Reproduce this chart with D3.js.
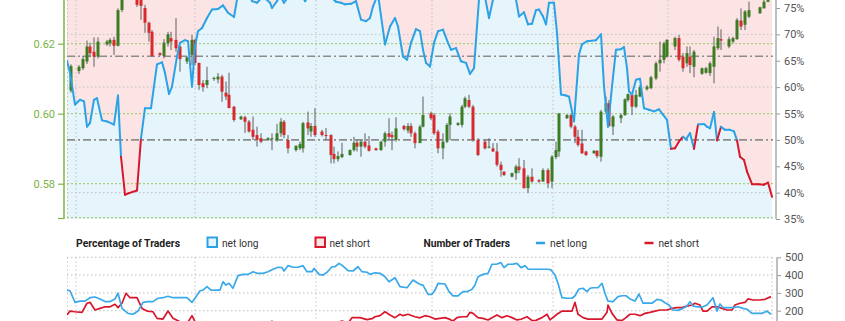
<!DOCTYPE html>
<html>
<head>
<meta charset="utf-8">
<script src="https://cdn.jsdelivr.net/npm/d3@7"></script>
<style>
  body { margin: 0; background: #fff; }
  svg text { font-family: Roboto, "Liberation Sans", sans-serif; }
</style>
</head>
<body>
<svg id="chart" width="845" height="321"></svg>
<script>
// ---- data (time in hours from start of window) ----
// candles: [time, open, high, low, close]
const candles = [
  [4, .6066, .6141, .6060, .6136], [12, .6122, .6139, .6114, .6134], [16, .6130, .6165, .6125, .6156],
  [20, .6149, .6209, .6142, .6192], [23, .6192, .6203, .6163, .6173], [27, .6177, .6218, .6134, .6163],
  [31, .6163, .6218, .6158, .6206], [40, .6198, .6211, .6194, .6206], [43, .6201, .6216, .6192, .6211],
  [47, .6211, .6220, .6168, .6194], [51, .6194, .6301, .6192, .6296], [55, .6296, .6345, .6290, .6335],
  [59, .6335, .6372, .6328, .6360], [63, .6360, .6395, .6352, .6385], [66, .6385, .6392, .6340, .6345],
  [70, .6331, .6335, .6305, .6311], [74, .6328, .6335, .6268, .6308], [78, .6302, .6311, .6231, .6260],
  [82, .6260, .6263, .6206, .6231], [85, .6234, .6239, .6163, .6165], [93, .6173, .6175, .6165, .6168],
  [97, .6165, .6213, .6158, .6203], [101, .6201, .6234, .6192, .6227], [104, .6216, .6234, .6182, .6206],
  [109, .6211, .6273, .6177, .6187], [113, .6192, .6194, .6120, .6156], [120, .6149, .6164, .6142, .6161],
  [125, .6168, .6225, .6139, .6211], [128, .6211, .6214, .6139, .6145], [132, .6145, .6146, .6068, .6082],
  [136, .6087, .6096, .6063, .6076], [140, .6082, .6134, .6073, .6096], [147, .6099, .6106, .6094, .6102],
  [151, .6098, .6116, .6087, .6106], [155, .6106, .6111, .6034, .6063], [159, .6060, .6092, .6039, .6049],
  [162, .6054, .6117, .6016, .6016], [167, .6020, .6022, .5977, .5982], [174, .5984, .5994, .5982, .5992],
  [178, .5990, .5994, .5945, .5977], [182, .5977, .5982, .5946, .5949], [186, .5954, .5992, .5925, .5934],
  [190, .5939, .5963, .5906, .5925], [194, .5930, .5944, .5916, .5920], [201, .5925, .5933, .5922, .5930],
  [205, .5928, .5944, .5896, .5930], [210, .5925, .5971, .5920, .5944], [214, .5944, .5987, .5934, .5977],
  [217, .5977, .5982, .5930, .5939], [221, .5925, .5939, .5887, .5901], [229, .5896, .5910, .5892, .5908],
  [233, .5901, .5920, .5896, .5913], [236, .5901, .5977, .5889, .5973], [241, .5975, .6006, .5939, .5958],
  [244, .5949, .5973, .5934, .5965], [248, .5965, .6016, .5934, .5939], [255, .5949, .5954, .5935, .5939],
  [259, .5939, .5959, .5925, .5936], [264, .5939, .5941, .5858, .5882], [267, .5885, .5906, .5858, .5870],
  [271, .5870, .5892, .5863, .5879], [275, .5876, .5917, .5873, .5885], [283, .5882, .5898, .5880, .5896],
  [287, .5896, .5934, .5892, .5917], [290, .5917, .5925, .5892, .5906], [294, .5906, .5925, .5877, .5920],
  [298, .5920, .5944, .5901, .5906], [302, .5909, .5936, .5892, .5894], [309, .5901, .5903, .5894, .5896],
  [314, .5896, .5923, .5894, .5920], [318, .5920, .5949, .5906, .5944], [322, .5944, .5987, .5925, .5934],
  [325, .5939, .5949, .5896, .5933], [329, .5925, .5990, .5920, .5958], [337, .5965, .5968, .5952, .5956],
  [341, .5952, .5973, .5944, .5965], [344, .5965, .5973, .5934, .5944], [348, .5944, .5949, .5901, .5916],
  [353, .5916, .5968, .5916, .5963], [356, .5963, .6049, .5961, .5996], [364, .6001, .6006, .5982, .5987],
  [367, .5996, .6002, .5939, .5944], [371, .5949, .5954, .5887, .5901], [376, .5901, .5944, .5870, .5920],
  [380, .5920, .5973, .5916, .5968], [383, .5968, .6001, .5925, .5992], [391, .5968, .5976, .5965, .5973],
  [395, .5968, .6025, .5961, .6020], [398, .6020, .6049, .6016, .6044], [402, .6039, .6054, .6016, .6020],
  [406, .6020, .6025, .5920, .5925], [411, .5925, .5930, .5879, .5882], [418, .5920, .5925, .5898, .5901],
  [422, .5903, .5930, .5901, .5906], [426, .5901, .5916, .5891, .5892], [430, .5892, .5916, .5849, .5854],
  [434, .5854, .5863, .5820, .5839], [437, .5834, .5836, .5822, .5825], [445, .5820, .5832, .5818, .5830],
  [449, .5830, .5854, .5811, .5849], [452, .5849, .5873, .5830, .5839], [457, .5844, .5868, .5787, .5787],
  [461, .5787, .5825, .5773, .5820], [465, .5820, .5844, .5803, .5806], [472, .5810, .5813, .5803, .5806],
  [476, .5806, .5844, .5806, .5839], [481, .5839, .5844, .5787, .5801], [485, .5806, .5882, .5787, .5877],
  [489, .5876, .5920, .5870, .5896], [492, .5892, .6001, .5877, .6001], [500, .5987, .5999, .5985, .5996],
  [504, .5996, .6001, .5958, .5963], [508, .5963, .5968, .5916, .5934], [511, .5934, .5954, .5906, .5911],
  [515, .5915, .5954, .5885, .5887], [519, .5892, .5894, .5879, .5882], [527, .5887, .5896, .5885, .5894],
  [530, .5894, .5896, .5873, .5879], [534, .5877, .6011, .5863, .6006], [539, .6006, .6049, .6001, .6030],
  [542, .6030, .6039, .5963, .5965], [546, .5963, .5996, .5939, .5992], [554, .5987, .6001, .5973, .5996],
  [558, .5996, .6044, .5994, .6041], [561, .6039, .6058, .6034, .6056], [565, .6054, .6058, .5996, .6020],
  [569, .6020, .6068, .6016, .6054], [573, .6049, .6082, .6047, .6076], [580, .6070, .6082, .6066, .6077],
  [584, .6073, .6108, .6070, .6104], [589, .6101, .6149, .6096, .6144], [593, .6144, .6206, .6120, .6154],
  [597, .6154, .6206, .6144, .6201], [600, .6163, .6213, .6160, .6211], [608, .6192, .6220, .6182, .6216],
  [612, .6216, .6225, .6149, .6154], [616, .6163, .6173, .6120, .6130], [620, .6144, .6192, .6134, .6173],
  [623, .6163, .6192, .6116, .6139], [627, .6134, .6182, .6104, .6177], [635, .6114, .6132, .6111, .6130],
  [639, .6117, .6134, .6114, .6130], [643, .6116, .6149, .6108, .6144], [647, .6134, .6220, .6087, .6192],
  [651, .6187, .6249, .6182, .6216], [654, .6213, .6241, .6182, .6209], [662, .6192, .6220, .6187, .6213],
  [666, .6206, .6220, .6201, .6216], [670, .6213, .6273, .6211, .6268], [674, .6266, .6301, .6239, .6249],
  [678, .6254, .6296, .6239, .6292], [682, .6277, .6320, .6273, .6296], [693, .6287, .6306, .6285, .6304],
  [697, .6301, .6325, .6301, .6320], [701, .6320, .6338, .6318, .6331]
];

// % of traders net long: [time, percent]
const netLongPct = [
  [0,65.0],[3,62.7],[8,56.7],[13,57.6],[17,57.3],[20,52.5],[23,53.2],[27,57.6],[30,57.9],[35,53.7],
  [40,53.5],[47,52.9],[51,58.4],[54,46.8],[58,39.6],[62,39.9],[70,40.4],[74,50.3],[78,56.0],[84,56.0],
  [90,64.3],[95,64.7],[98,62.7],[102,58.7],[105,60.1],[110,65.8],[113,68.4],[118,68.9],[121,68.7],[125,60.1],
  [128,67.7],[131,70.6],[135,71.2],[140,73.1],[145,74.7],[151,74.8],[156,75.5],[161,74.1],[167,73.3],[170,76.6],
  [175,78.5],[180,79.5],[185,76.3],[190,76.0],[196,77.2],[203,76.0],[205,75.0],[210,76.3],[213,77.4],[217,76.0],
  [223,77.6],[233,78.1],[238,76.3],[243,77.6],[253,77.6],[263,77.2],[269,76.2],[274,76.0],[278,75.7],[284,75.8],
  [289,76.3],[294,72.8],[299,72.5],[303,73.1],[306,75.3],[311,77.6],[318,68.1],[323,71.5],[328,73.1],[331,71.5],
  [336,65.8],[340,65.2],[344,68.4],[349,71.0],[353,70.6],[356,67.1],[359,64.6],[363,63.9],[367,68.4],[371,70.6],
  [376,70.9],[381,68.4],[384,67.1],[389,67.4],[394,64.9],[399,64.6],[403,62.5],[407,63.6],[410,71.5],[412,76.6],
  [417,78.1],[422,73.1],[426,76.6],[433,78.5],[441,77.7],[449,76.6],[452,73.4],[457,74.2],[461,71.9],[465,72.0],
  [469,74.6],[472,74.7],[476,73.4],[479,71.9],[482,76.0],[487,76.0],[490,70.3],[494,58.6],[499,58.4],[502,58.2],
  [507,53.5],[512,66.2],[515,68.1],[520,68.7],[529,68.9],[534,70.0],[537,60.1],[541,52.5],[545,60.1],[549,67.1],
  [554,67.2],[557,67.6],[560,63.6],[562,59.2],[565,58.6],[569,61.4],[573,61.6],[577,56.0],[582,55.7],[587,55.4],
  [592,55.8],[596,54.8],[600,53.8],[604,48.3],[608,48.4],[612,49.7],[616,50.6],[619,50.1],[623,51.3],[627,48.3],
  [631,52.9],[637,53.0],[640,52.5],[643,52.2],[647,55.3],[650,49.9],[654,52.5],[658,51.9],[663,51.9],[667,51.6],
  [670,49.9],[673,46.8],[677,46.2],[680,44.0],[685,41.6],[691,41.6],[697,41.5],[701,41.9],[705,39.2]
];

// number of traders: [time, count]
const netLongCount = [
  [0,316],[3,312],[8,247],[13,254],[18,254],[23,273],[28,277],[33,266],[38,251],[43,251],[48,266],[51,298],
  [55,213],[61,185],[66,180],[71,198],[76,247],[81,251],[86,251],[91,270],[96,273],[101,281],[106,273],[113,273],
  [120,273],[125,247],[128,270],[133,312],[136,316],[140,335],[144,315],[149,316],[153,316],[156,363],[159,344],
  [162,354],[166,326],[171,397],[176,404],[181,404],[186,419],[190,410],[196,410],[201,419],[206,433],[211,444],
  [215,442],[217,423],[221,453],[226,444],[231,444],[236,453],[240,419],[245,419],[247,438],[252,404],[256,400],
  [260,416],[265,447],[268,447],[272,466],[276,451],[281,425],[286,423],[291,447],[295,419],[300,416],[303,404],
  [308,413],[313,410],[318,391],[322,363],[328,385],[333,335],[340,329],[346,372],[351,354],[353,348],[356,344],
  [361,292],[365,292],[368,316],[371,354],[378,350],[382,307],[386,283],[391,283],[396,307],[400,307],[405,320],
  [408,344],[411,391],[416,404],[421,410],[425,461],[430,462],[434,470],[437,442],[441,461],[446,462],[450,466],
  [454,442],[458,453],[461,434],[468,433],[475,433],[481,433],[484,429],[488,400],[491,354],[495,273],[500,270],
  [505,270],[508,284],[512,322],[516,326],[520,307],[523,326],[526,329],[531,329],[535,354],[538,298],[541,254],
  [546,251],[551,279],[555,284],[559,284],[563,266],[568,254],[572,294],[576,242],[581,242],[585,242],[590,264],
  [594,260],[598,245],[602,232],[606,204],[611,202],[616,213],[620,226],[623,251],[626,226],[631,222],[636,222],
  [640,232],[646,273],[650,198],[653,238],[656,217],[661,217],[666,217],[671,222],[676,213],[680,208],[685,185],
  [690,185],[695,185],[700,198],[704,180]
];
const netShortCount = [
  [0,176],[3,198],[8,194],[15,191],[20,242],[23,247],[28,204],[33,213],[38,222],[43,222],[48,236],[51,217],
  [55,242],[59,298],[63,273],[70,273],[75,213],[80,198],[86,194],[90,157],[96,153],[101,198],[106,157],[113,138],
  [121,136],[125,172],[128,138],[135,125],[145,118],[155,122],[165,115],[175,118],[185,112],[195,120],[205,140],
  [213,122],[225,116],[235,120],[245,113],[255,118],[265,124],[275,142],[281,130],[285,161],[293,161],[300,150],
  [305,155],[308,166],[313,172],[318,194],[323,176],[328,161],[333,180],[336,172],[341,180],[348,166],[353,160],
  [358,172],[363,166],[368,153],[373,157],[378,161],[383,151],[386,142],[390,161],[395,166],[400,166],[403,191],
  [406,185],[411,161],[416,157],[421,148],[425,161],[430,176],[435,161],[440,172],[445,161],[450,148],[454,152],
  [460,166],[465,145],[469,146],[475,161],[480,180],[483,148],[490,180],[495,198],[500,198],[505,198],[508,247],
  [511,180],[516,161],[521,153],[526,153],[535,153],[540,191],[541,232],[545,185],[550,148],[555,145],[558,157],
  [563,180],[568,180],[573,172],[578,185],[583,191],[588,198],[593,204],[600,204],[605,213],[610,217],[615,217],
  [620,226],[625,232],[628,242],[633,232],[636,198],[640,198],[645,222],[650,222],[655,213],[660,204],[665,204],
  [668,232],[673,242],[678,247],[681,266],[686,260],[693,260],[698,264],[704,279]
];

const dateTicks = [9, 128, 249, 365, 486, 601];
const priceTicks = [0.58, 0.60, 0.62];
const pctTicks = [35, 40, 45, 50, 55, 60, 65, 70, 75];
const pctGrid = [40, 60, 70];
const refPct = [50, 65.85];
const countTicks = [200, 300, 400, 500];

// ---- layout ----
const svg = d3.select('#chart');
const L = 67, R = 773;
const topBottom = 219;
const lowTop = 257.3;

const x = d3.scaleLinear().domain([0, 706]).range([L, R]);
const yPrice = d3.scaleLinear().domain([0.57, 0.63]).range([218.7, 8.7]);
const yPct = d3.scaleLinear().domain([35, 75]).range([219, 8]);
const yNum = d3.scaleLinear().domain([200, 500]).range([310.7, lowTop]);

const BLUE = '#2aa3e6', RED = '#d8172c';
const BLUE_FILL = '#e6f4fc', RED_FILL = '#fce4e5';

const defs = svg.append('defs');
defs.append('clipPath').attr('id', 'clipTop')
  .append('rect').attr('x', L).attr('y', 0).attr('width', R - L).attr('height', topBottom);
defs.append('clipPath').attr('id', 'clipLow')
  .append('rect').attr('x', L).attr('y', lowTop - 2).attr('width', R - L).attr('height', 321 - lowTop + 2);

// ---- top panel ----
const topPanel = svg.append('g').attr('clip-path', 'url(#clipTop)');
const lastT = netLongPct[netLongPct.length - 1][0];

topPanel.append('rect')
  .attr('x', x(0)).attr('y', 0)
  .attr('width', x(lastT) - x(0)).attr('height', topBottom)
  .attr('fill', RED_FILL);

topPanel.append('path')
  .datum(netLongPct)
  .attr('fill', BLUE_FILL)
  .attr('d', d3.area().x(d => x(d[0])).y0(topBottom).y1(d => yPct(d[1])));

// gridlines
topPanel.selectAll('.pctGrid').data(pctGrid).enter().append('line')
  .attr('x1', L).attr('x2', R)
  .attr('y1', d => yPct(d)).attr('y2', d => yPct(d))
  .attr('stroke', '#c2c2c2').attr('stroke-dasharray', '1.5,2.5');

topPanel.selectAll('.priceGrid').data(priceTicks.concat([0.57])).enter().append('line')
  .attr('x1', L).attr('x2', R)
  .attr('y1', d => yPrice(d) - (d === 0.57 ? 1 : 0)).attr('y2', d => yPrice(d) - (d === 0.57 ? 1 : 0))
  .attr('stroke', '#a7d07c').attr('stroke-width', 1.2).attr('stroke-dasharray', '2,2');

topPanel.selectAll('.vGrid').data(dateTicks).enter().append('line')
  .attr('x1', d => x(d)).attr('x2', d => x(d))
  .attr('y1', 0).attr('y2', topBottom)
  .attr('stroke', '#c2c2c2').attr('stroke-dasharray', '1.5,2.5');

topPanel.append('line')
  .attr('x1', L + 0.5).attr('x2', L + 0.5).attr('y1', 0).attr('y2', topBottom)
  .attr('stroke', '#b8c8a8').attr('stroke-dasharray', '1.5,2.5');

topPanel.selectAll('.ref').data(refPct).enter().append('line')
  .attr('x1', L).attr('x2', R)
  .attr('y1', d => yPct(d)).attr('y2', d => yPct(d))
  .attr('stroke', '#8d8d8d').attr('stroke-width', 1.6).attr('stroke-dasharray', '8,3,2,3');

// candles
const candle = topPanel.selectAll('.candle').data(candles).enter().append('g');
candle.append('line')
  .attr('x1', d => x(d[0])).attr('x2', d => x(d[0]))
  .attr('y1', d => yPrice(d[2])).attr('y2', d => yPrice(d[3]))
  .attr('stroke', '#5e5e5e').attr('stroke-width', 1);
candle.append('rect')
  .attr('x', d => x(d[0]) - 1.5)
  .attr('width', 3)
  .attr('y', d => yPrice(Math.max(d[1], d[4])))
  .attr('height', d => Math.max(1, Math.abs(yPrice(d[1]) - yPrice(d[4]))))
  .attr('fill', d => d[4] >= d[1] ? '#3c7d24' : '#d62a2c');

// sentiment line, each segment coloured by its starting value
const seg = d3.line().x(d => x(d[0])).y(d => yPct(d[1]));
const pairs = d3.pairs(netLongPct);
topPanel.selectAll('.seg').data(pairs).enter().append('path')
  .attr('d', d => seg(d))
  .attr('fill', 'none')
  .attr('stroke', d => d[0][1] >= 50 ? BLUE : RED)
  .attr('stroke-width', 2)
  .attr('stroke-linecap', 'round')
  .attr('stroke-linejoin', 'round');

// left axis (price)
const leftAxis = svg.append('g')
  .attr('transform', 'translate(64,0)')
  .call(d3.axisLeft(yPrice).tickValues(priceTicks).tickFormat(d3.format('.2f')).tickSize(6).tickPadding(3));
leftAxis.select('.domain').remove();
leftAxis.selectAll('line').attr('stroke', '#7db547').attr('stroke-width', 1.2);
leftAxis.selectAll('text').attr('fill', '#7ab244').style('font-size', '11px');
svg.append('line').attr('x1', 64).attr('x2', 64).attr('y1', 0).attr('y2', topBottom)
  .attr('stroke', '#7db547').attr('stroke-width', 1.5);
svg.append('line').attr('x1', 58).attr('x2', 64).attr('y1', topBottom - 0.5).attr('y2', topBottom - 0.5)
  .attr('stroke', '#7db547').attr('stroke-width', 1.2);

// right axis (percent)
const rightAxis = svg.append('g')
  .attr('transform', 'translate(776,0)')
  .call(d3.axisRight(yPct).tickValues(pctTicks).tickFormat(d => d + '%').tickSize(4).tickPadding(4));
rightAxis.select('.domain').remove();
rightAxis.selectAll('line').attr('stroke', '#9a9a9a');
rightAxis.selectAll('text').attr('fill', '#555').style('font-size', '11px');
svg.append('line').attr('x1', 776).attr('x2', 776).attr('y1', 0).attr('y2', topBottom)
  .attr('stroke', '#aaa').attr('stroke-width', 1.5);

// ---- legend ----
const legend = svg.append('g').style('font-size', '11px');
legend.append('text').attr('x', 76).attr('y', 246.5).attr('font-weight', 'bold').attr('fill', '#222')
  .attr('textLength', 104).attr('lengthAdjust', 'spacingAndGlyphs').text('Percentage of Traders');
legend.append('rect').attr('x', 207.5).attr('y', 237.5).attr('width', 9.5).attr('height', 9.5)
  .attr('fill', BLUE_FILL).attr('stroke', BLUE).attr('stroke-width', 2);
legend.append('text').attr('x', 222).attr('y', 246.5).attr('fill', '#333')
  .attr('textLength', 36.5).attr('lengthAdjust', 'spacingAndGlyphs').text('net long');
legend.append('rect').attr('x', 315.5).attr('y', 237.5).attr('width', 9.5).attr('height', 9.5)
  .attr('fill', RED_FILL).attr('stroke', RED).attr('stroke-width', 2);
legend.append('text').attr('x', 329.5).attr('y', 246.5).attr('fill', '#333')
  .attr('textLength', 40.5).attr('lengthAdjust', 'spacingAndGlyphs').text('net short');

legend.append('text').attr('x', 423.5).attr('y', 246.5).attr('font-weight', 'bold').attr('fill', '#222')
  .attr('textLength', 86.5).attr('lengthAdjust', 'spacingAndGlyphs').text('Number of Traders');
legend.append('line').attr('x1', 536).attr('x2', 545).attr('y1', 243).attr('y2', 243)
  .attr('stroke', BLUE).attr('stroke-width', 2.5);
legend.append('text').attr('x', 550).attr('y', 246.5).attr('fill', '#333')
  .attr('textLength', 37).attr('lengthAdjust', 'spacingAndGlyphs').text('net long');
legend.append('line').attr('x1', 644.5).attr('x2', 653.5).attr('y1', 243).attr('y2', 243)
  .attr('stroke', RED).attr('stroke-width', 2.5);
legend.append('text').attr('x', 658.5).attr('y', 246.5).attr('fill', '#333')
  .attr('textLength', 40.5).attr('lengthAdjust', 'spacingAndGlyphs').text('net short');

// ---- lower panel (number of traders) ----
const low = svg.append('g').attr('clip-path', 'url(#clipLow)');

low.selectAll('.cGrid').data(countTicks).enter().append('line')
  .attr('x1', L).attr('x2', R)
  .attr('y1', d => yNum(d)).attr('y2', d => yNum(d))
  .attr('stroke', '#c2c2c2').attr('stroke-dasharray', '1.5,2.5');
low.selectAll('.vGridLow').data(dateTicks.concat([0.3, 705])).enter().append('line')
  .attr('x1', d => x(d)).attr('x2', d => x(d))
  .attr('y1', lowTop).attr('y2', 321)
  .attr('stroke', '#c2c2c2').attr('stroke-dasharray', '1.5,2.5');

const countLine = d3.line().x(d => x(d[0])).y(d => yNum(d[1]));
low.append('path').datum(netShortCount)
  .attr('fill', 'none').attr('stroke', RED).attr('stroke-width', 1.7)
  .attr('stroke-linejoin', 'round').attr('d', countLine);
low.append('path').datum(netLongCount)
  .attr('fill', 'none').attr('stroke', '#39a9ea').attr('stroke-width', 1.7)
  .attr('stroke-linejoin', 'round').attr('d', countLine);

const lowAxis = svg.append('g')
  .attr('transform', 'translate(777,0)')
  .call(d3.axisRight(yNum).tickValues(countTicks).tickSize(4).tickPadding(4));
lowAxis.select('.domain').remove();
lowAxis.selectAll('line').attr('stroke', '#9a9a9a');
lowAxis.selectAll('text').attr('fill', '#555').style('font-size', '11px');
svg.append('line').attr('x1', 777).attr('x2', 777).attr('y1', lowTop).attr('y2', 321)
  .attr('stroke', '#aaa').attr('stroke-width', 1.5);
</script>
</body>
</html>
